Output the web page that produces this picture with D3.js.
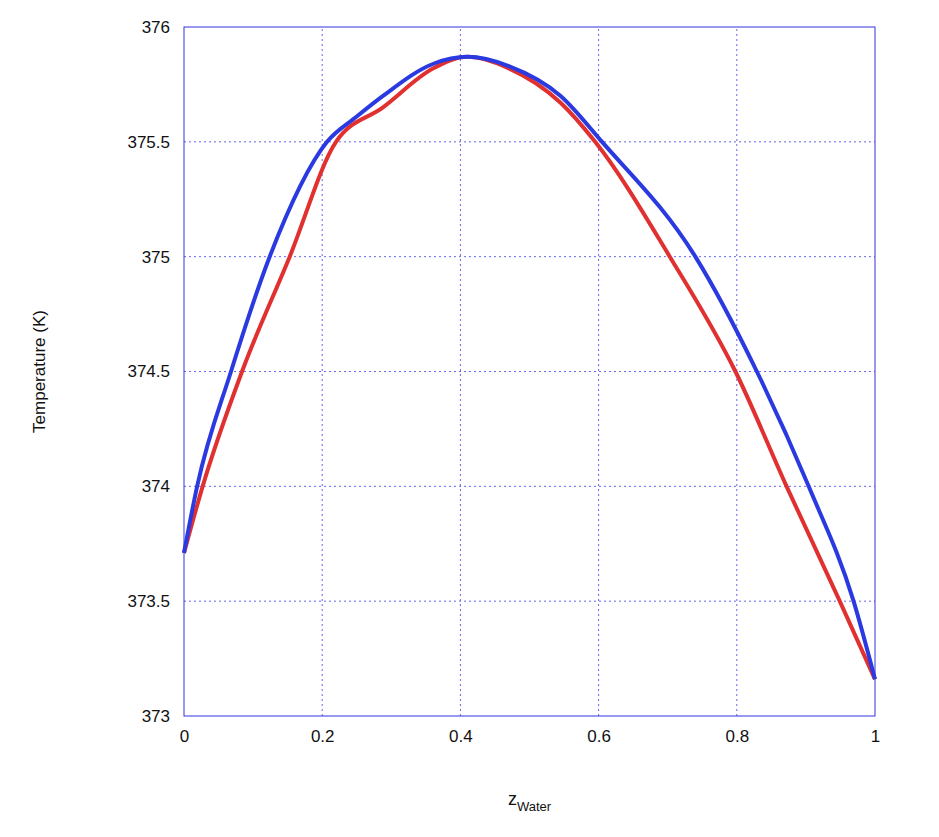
<!DOCTYPE html>
<html><head><meta charset="utf-8">
<script src="https://cdn.jsdelivr.net/npm/d3@7"></script>
<style>body{margin:0;background:#fff;font-family:"Liberation Sans",Arial,sans-serif}</style>
</head><body>
<script>
var width = 939, height = 837;
var margin = {left: 184, right: 64, top: 27, bottom: 121};

var xTicks = [0, 0.2, 0.4, 0.6, 0.8, 1];
var xTickLabels = ["0", "0.2", "0.4", "0.6", "0.8", "1"];
var yTicks = [373, 373.5, 374, 374.5, 375, 375.5, 376];
var yTickLabels = ["373", "373.5", "374", "374.5", "375", "375.5", "376"];

var blueX = [0, 0.019, 0.068, 0.124, 0.207, 0.25, 0.288, 0.361, 0.41, 0.47, 0.545, 0.605, 0.74, 0.829, 0.904, 0.969, 1];
var blueY = [373.71, 374, 374.5, 375, 375.5, 375.61, 375.70, 375.84, 375.87, 375.83, 375.70, 375.5, 375, 374.5, 374, 373.5, 373.16];
var redX = [0, 0.027, 0.084, 0.153, 0.22, 0.288, 0.361, 0.41, 0.47, 0.545, 0.595, 0.703, 0.798, 0.872, 0.949, 1];
var redY = [373.71, 374, 374.5, 375, 375.5, 375.65, 375.82, 375.87, 375.82, 375.67, 375.5, 375, 374.5, 374, 373.5, 373.16];

var svg = d3.select("body").append("svg").attr("width", width).attr("height", height);

var x = d3.scaleLinear().domain([0, 1]).range([margin.left, width - margin.right]);
var y = d3.scaleLinear().domain([373, 376]).range([height - margin.bottom, margin.top]);

// grid
svg.append("g").selectAll("line").data(xTicks.slice(1, -1)).enter().append("line")
    .attr("x1", x).attr("x2", x).attr("y1", y(373)).attr("y2", y(376))
    .attr("stroke", "#6666ee").attr("stroke-dasharray", "2,3").attr("stroke-width", 1);
svg.append("g").selectAll("line").data(yTicks.slice(1, -1)).enter().append("line")
    .attr("y1", y).attr("y2", y).attr("x1", x(0)).attr("x2", x(1))
    .attr("stroke", "#6666ee").attr("stroke-dasharray", "2,3").attr("stroke-width", 1);

// frame
svg.append("rect").attr("x", x(0)).attr("y", y(376))
    .attr("width", x(1) - x(0)).attr("height", y(373) - y(376))
    .attr("fill", "none").attr("stroke", "#3333dd").attr("stroke-width", 1);

var xAxis = svg.append("g").attr("transform", "translate(0," + y(373) + ")")
    .call(d3.axisBottom(x).tickValues(xTicks).tickFormat(function(d, i) { return xTickLabels[i]; }).tickSize(0).tickPadding(14));
var yAxis = svg.append("g").attr("transform", "translate(" + x(0) + ",0)")
    .call(d3.axisLeft(y).tickValues(yTicks).tickFormat(function(d, i) { return yTickLabels[i]; }).tickSize(0).tickPadding(14));
[xAxis, yAxis].forEach(function(a) {
    a.select(".domain").remove();
    a.selectAll("text").attr("font-size", 17).attr("fill", "#111").attr("font-family", "Liberation Sans, Arial, sans-serif");
});

var line = d3.line().curve(d3.curveMonotoneX)
    .x(function(d) { return x(d[0]); }).y(function(d) { return y(d[1]); });

svg.append("path").datum(d3.zip(redX, redY)).attr("d", line)
    .attr("fill", "none").attr("stroke", "#e03030").attr("stroke-width", 4);
svg.append("path").datum(d3.zip(blueX, blueY)).attr("d", line)
    .attr("fill", "none").attr("stroke", "#2a3ae0").attr("stroke-width", 4);

svg.append("text").attr("transform", "translate(45," + ((y(373) + y(376)) / 2) + ") rotate(-90)")
    .attr("text-anchor", "middle").attr("font-size", 17).attr("fill", "#111").text("Temperature (K)");

var xl = svg.append("text").attr("x", x(0.5)).attr("y", 805).attr("text-anchor", "middle")
    .attr("font-size", 18).attr("fill", "#111");
xl.append("tspan").text("z");
xl.append("tspan").attr("font-size", 13).attr("dy", 6).text("Water");
</script>
</body></html>
